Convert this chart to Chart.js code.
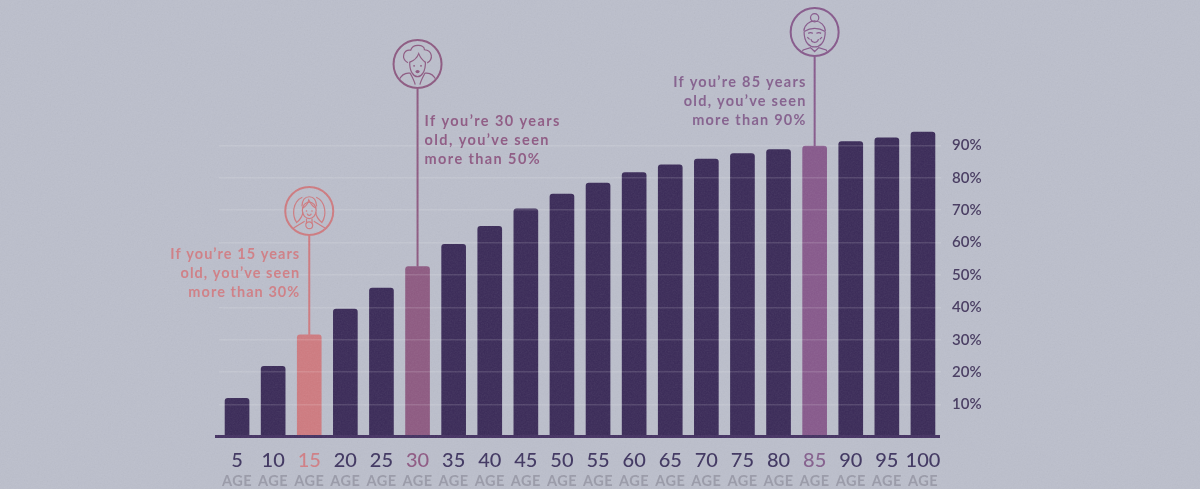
<!DOCTYPE html>
<html>
<head>
<meta charset="utf-8">
<style>
html,body{margin:0;padding:0;width:1200px;height:489px;overflow:hidden;background:#bcbfcc;}
#wrap{position:relative;width:1200px;height:489px;}
canvas{position:absolute;left:0;top:0;}
#grain{position:absolute;left:0;top:0;width:1200px;height:489px;pointer-events:none;opacity:.1;
background-image:url("data:image/svg+xml,%3Csvg xmlns='http://www.w3.org/2000/svg' width='400' height='400'%3E%3Cfilter id='n'%3E%3CfeTurbulence type='fractalNoise' baseFrequency='.7' numOctaves='3'/%3E%3CfeColorMatrix type='saturate' values='0'/%3E%3C/filter%3E%3Crect width='400' height='400' filter='url(%23n)'/%3E%3C/svg%3E");}
</style>
<script src="https://cdn.jsdelivr.net/npm/chart.js@4"></script>
</head>
<body>
<div id="wrap">
<canvas id="ageChart" width="1200" height="489"></canvas>
<div id="grain"></div>
</div>
<script>
const ages = ['5','10','15','20','25','30','35','40','45','50','55','60','65','70','75','80','85','90','95','100'];
const seenPct = [11.9,21.8,31.5,39.5,46,52.6,59.5,65,70.4,75,78.4,81.6,84,85.8,87.5,88.7,89.8,91.2,92.3,94.1];
const yTicks = [10,20,30,40,50,60,70,80,90];
const ageWord = 'AGE';

const textFont = 'Lato, "Open Sans", sans-serif';
const dark = '#3a2a58';
const colors = {'15':'#cf7b80','30':'#8e5a82','85':'#87598c'};
const textColors = {'15':'#d17f86','30':'#8f5a84','85':'#85608e'};

const callouts = [
  {age:'15', lines:["If you’re 15 years","old, you’ve seen","more than 30%"]},
  {age:'30', lines:["If you’re 30 years","old, you’ve seen","more than 50%"]},
  {age:'85', lines:["If you’re 85 years","old, you’ve seen","more than 90%"]}
];

function dot(c,x,y,s){
  c.save();c.fillStyle=c.strokeStyle;c.beginPath();c.arc(x,y,s,0,Math.PI*2);c.fill();c.restore();
}
function faceKid(c,r){
  // pigtails
  c.beginPath();c.moveTo(-r*.3,-r*.6);c.bezierCurveTo(-r*.75,-r*.4,-r*.75,r*.2,-r*.55,r*.5);c.quadraticCurveTo(-r*.3,r*.3,-r*.28,r*.05);c.stroke();
  c.beginPath();c.moveTo(r*.3,-r*.6);c.bezierCurveTo(r*.75,-r*.4,r*.75,r*.2,r*.55,r*.5);c.quadraticCurveTo(r*.3,r*.3,r*.28,r*.05);c.stroke();
  // head
  c.beginPath();c.ellipse(0,-r*.03,r*.3,r*.36,0,0,Math.PI*2);c.stroke();
  c.beginPath();c.moveTo(-r*.32,-r*.2);c.quadraticCurveTo(-r*.3,-r*.62,0,-r*.62);c.quadraticCurveTo(r*.3,-r*.62,r*.32,-r*.2);c.stroke();
  c.beginPath();c.moveTo(-r*.3,-r*.12);c.quadraticCurveTo(-r*.08,-r*.22,-r*.02,-r*.48);c.quadraticCurveTo(r*.12,-r*.2,r*.3,-r*.12);c.stroke();
  dot(c,-r*.12,0,r*.035);dot(c,r*.12,0,r*.035);
  c.beginPath();c.arc(0,r*.1,r*.09,.2,Math.PI-.2);c.stroke();
  // neck and collar
  c.beginPath();c.moveTo(-r*.12,r*.34);c.lineTo(-r*.12,r*.55);c.moveTo(r*.12,r*.34);c.lineTo(r*.12,r*.55);c.stroke();
  c.beginPath();c.arc(0,r*.62,r*.15,0,Math.PI*2);c.stroke();
  c.beginPath();c.moveTo(-r*.7,r*.75);c.lineTo(-r*.2,r*.45);c.moveTo(r*.7,r*.75);c.lineTo(r*.2,r*.45);c.stroke();
}
function faceWoman(c,r){
  // curly hair
  c.beginPath();c.moveTo(-r*.42,-r*.05);c.bezierCurveTo(-r*.75,-r*.25,-r*.6,-r*.65,-r*.3,-r*.6);c.bezierCurveTo(-r*.2,-r*.9,r*.3,-r*.85,r*.3,-r*.62);c.bezierCurveTo(r*.65,-r*.6,r*.7,-r*.2,r*.42,-r*.05);c.stroke();
  c.beginPath();c.moveTo(-r*.34,-r*.08);c.quadraticCurveTo(-r*.05,-r*.18,r*.05,-r*.45);c.quadraticCurveTo(r*.15,-r*.2,r*.34,-r*.08);c.stroke();
  // head
  c.beginPath();c.moveTo(-r*.34,-r*.1);c.bezierCurveTo(-r*.36,r*.35,-r*.15,r*.55,0,r*.55);c.bezierCurveTo(r*.15,r*.55,r*.36,r*.35,r*.34,-r*.1);c.stroke();
  dot(c,-r*.15,r*.08,r*.04);dot(c,r*.15,r*.08,r*.04);
  c.save();c.fillStyle=c.strokeStyle;c.beginPath();c.ellipse(0,r*.33,r*.09,r*.07,0,0,Math.PI*2);c.fill();c.restore();
  // shoulders
  c.beginPath();c.moveTo(-r*.8,r*.7);c.quadraticCurveTo(-r*.65,r*.35,-r*.32,r*.4);c.quadraticCurveTo(-r*.15,r*.7,-r*.1,r*.9);c.stroke();
  c.beginPath();c.moveTo(r*.8,r*.7);c.quadraticCurveTo(r*.65,r*.35,r*.32,r*.4);c.quadraticCurveTo(r*.15,r*.7,r*.1,r*.9);c.stroke();
}
function faceGran(c,r){
  // bun
  c.beginPath();c.arc(0,-r*.62,r*.18,0,Math.PI*2);c.stroke();
  // hair and head
  c.beginPath();c.ellipse(0,-r*.02,r*.47,r*.46,0,Math.PI*1.02,-Math.PI*.02);c.stroke();
  c.beginPath();c.moveTo(-r*.46,-r*.02);c.bezierCurveTo(-r*.46,r*.5,-r*.2,r*.65,0,r*.65);c.bezierCurveTo(r*.2,r*.65,r*.46,r*.5,r*.46,-r*.02);c.stroke();
  c.beginPath();c.moveTo(-r*.46,-r*.02);c.quadraticCurveTo(0,-r*.3,r*.46,-r*.02);c.stroke();
  // eyes, wrinkles, smile
  c.beginPath();c.moveTo(-r*.28,r*.06);c.quadraticCurveTo(-r*.18,r*.0,-r*.08,r*.06);c.moveTo(r*.08,r*.06);c.quadraticCurveTo(r*.18,r*0,r*.28,r*.06);c.stroke();
  c.beginPath();c.arc(0,r*.28,r*.17,.2,Math.PI-.2);c.stroke();
  c.beginPath();c.moveTo(-r*.32,r*.22);c.lineTo(-r*.22,r*.32);c.moveTo(r*.32,r*.22);c.lineTo(r*.22,r*.32);c.stroke();
  // collar
  c.beginPath();c.moveTo(-r*.6,r*.95);c.lineTo(-r*.5,r*.78);c.lineTo(-r*.18,r*.68);c.lineTo(0,r*.85);c.lineTo(r*.18,r*.68);c.lineTo(r*.5,r*.78);c.lineTo(r*.6,r*.95);c.stroke();
}

// where the badges and captions sit around each highlighted bar
const calloutLayout = {
  '15':{iconY:211, textY:254, side:-1, textDx:-9,  spacing:'1.05px', face:faceKid},
  '30':{iconY:64,  textY:121, side:1,  textDx:7,   spacing:'1.4px',  face:faceWoman},
  '85':{iconY:32,  textY:82,  side:-1, textDx:-8,  spacing:'1.25px', face:faceGran}
};

const extras = {
  id:'extras',
  afterDraw(chart){
    const c = chart.ctx, x = chart.scales.x, y = chart.scales.y, area = chart.chartArea;
    c.save();
    // baseline
    c.strokeStyle = '#443162'; c.lineWidth = 3;
    c.beginPath(); c.moveTo(x.left-4, area.bottom-0.5); c.lineTo(area.right-1, area.bottom-0.5); c.stroke();
    // AGE under each tick
    c.font = '700 14.5px '+textFont; c.fillStyle = '#9a9ba9';
    c.textAlign = 'center'; c.textBaseline = 'middle'; c.letterSpacing = '0.5px';
    ages.forEach((a,i)=>c.fillText(ageWord, x.getPixelForTick(i), 481));
    // callouts
    const r = 25;
    callouts.forEach(o=>{
      const i = ages.indexOf(o.age), lay = calloutLayout[o.age];
      const px = x.getPixelForTick(i), top = y.getPixelForValue(seenPct[i]);
      c.strokeStyle = colors[o.age]; c.lineWidth = 2;
      c.beginPath(); c.moveTo(px, lay.iconY+r); c.lineTo(px, top); c.stroke();
      c.beginPath(); c.arc(px, lay.iconY, r-1, 0, Math.PI*2); c.stroke();
      c.save();
      c.beginPath(); c.arc(px, lay.iconY, r-2, 0, Math.PI*2); c.clip();
      c.translate(px, lay.iconY); c.lineWidth = 1.2;
      lay.face(c, r-2);
      c.restore();
      c.font = '700 14.5px '+textFont; c.fillStyle = textColors[o.age];
      c.textAlign = lay.side<0 ? 'right' : 'left'; c.letterSpacing = lay.spacing;
      o.lines.forEach((t,k)=>c.fillText(t, px+lay.textDx, lay.textY+k*19.3));
    });
    c.restore();
  }
};

new Chart(document.getElementById('ageChart').getContext('2d'), {
  type:'bar',
  plugins:[extras],
  data:{
    labels:ages,
    datasets:[{
      data:seenPct,
      backgroundColor:ages.map(a=>colors[a]||dark),
      barThickness:24,
      borderRadius:{topLeft:3,topRight:3,bottomLeft:0,bottomRight:0},
      borderSkipped:false
    }]
  },
  options:{
    responsive:false,
    animation:false,
    layout:{padding:{left:219,top:113,right:0,bottom:0}},
    plugins:{legend:{display:false},tooltip:{enabled:false}},
    scales:{
      x:{
        grid:{display:false},
        border:{display:false},
        afterFit(s){s.height=52;},
        ticks:{
          autoSkip:false,maxRotation:0,padding:4,
          font:{family:textFont,size:20,weight:'500'},
          color:c=>textColors[ages[c.index]]||'#3f3560'
        }
      },
      y:{
        position:'right',min:0,max:100,
        afterFit(s){s.width=259;},
        afterBuildTicks(s){s.ticks=yTicks.map(v=>({value:v}));},
        grid:{color:'rgba(255,255,255,.13)',lineWidth:1.5,drawTicks:false,z:1},
        border:{display:false},
        ticks:{
          padding:11,
          font:{family:textFont,size:15,weight:'600'},
          color:'#45395f',
          callback:v=>v+'%'
        }
      }
    }
  }
});
</script>
</body>
</html>
